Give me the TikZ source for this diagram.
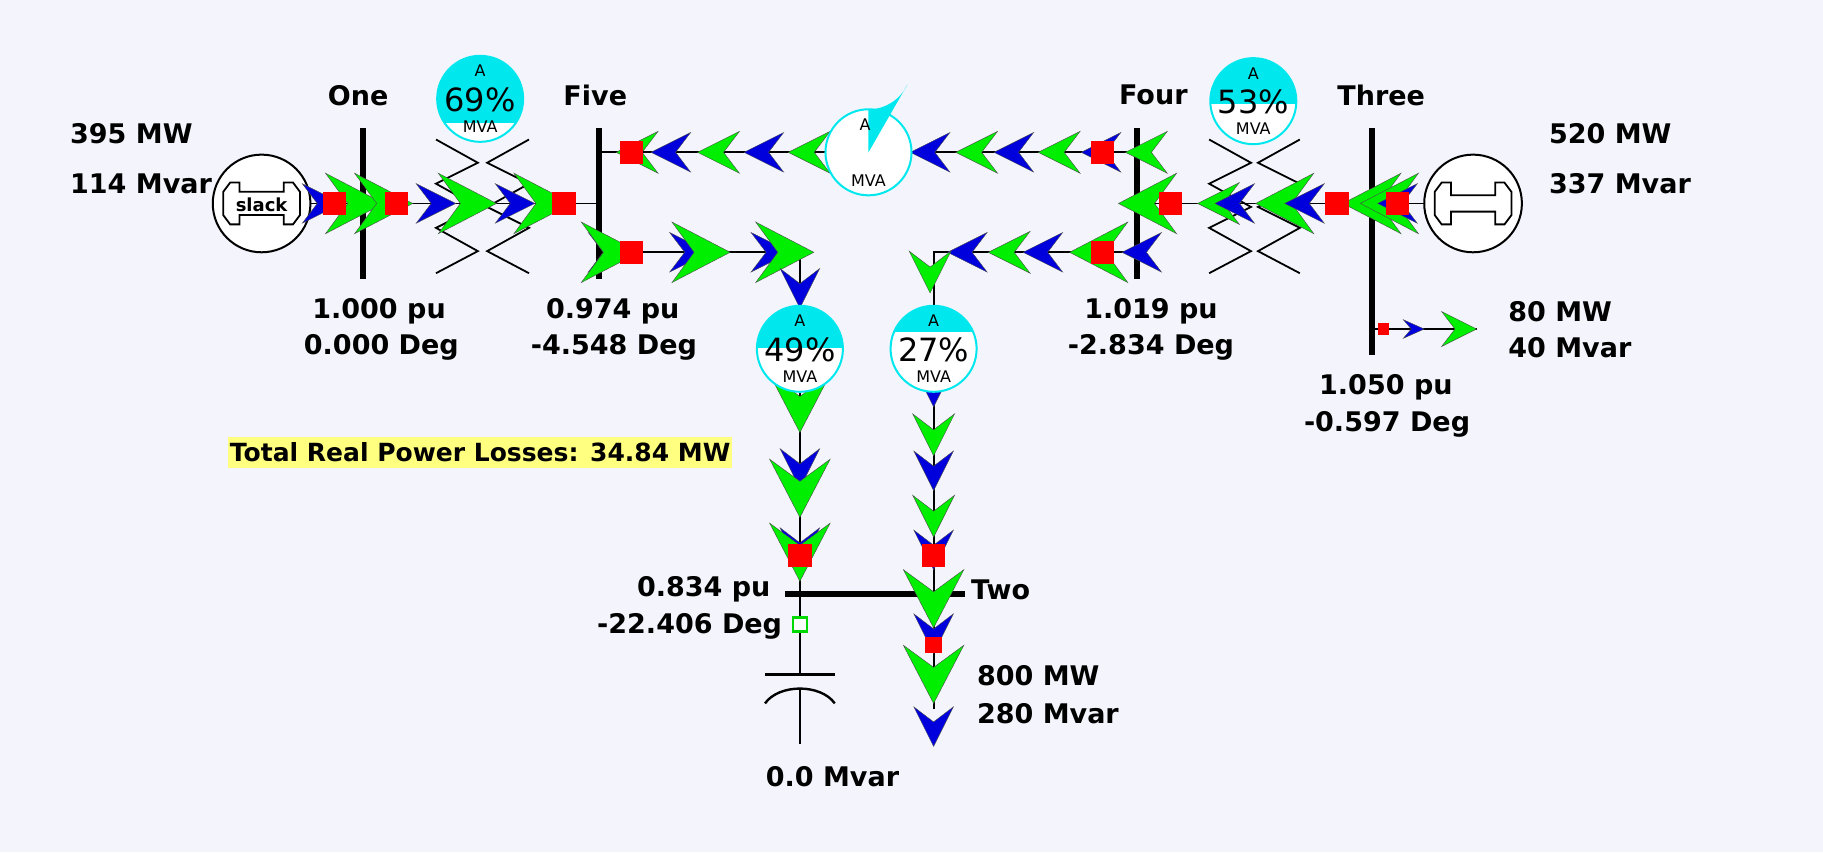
\documentclass[tikz,border=0pt]{standalone}
\usepackage{fontspec}
\setmainfont{DejaVu Sans}
\definecolor{bg}{HTML}{F4F5FC}
\definecolor{gr}{HTML}{00EE00}
\definecolor{bl}{HTML}{0000DD}
\definecolor{cy}{HTML}{00E8EE}
\definecolor{hl}{HTML}{FFFF80}
\newcommand\fl[6]{\fill[#4,draw=black!70,line width=0.2pt,shift={(#1,#2)},rotate=#3] (0,0)--(-#5,#6)--(-0.62*#5,0)--(-#5,-#6)--cycle;}
\newcommand\GA[3]{\fl{#1}{#2}{#3}{gr}{50}{26}}
\newcommand\Ga[3]{\fl{#1}{#2}{#3}{gr}{36}{18}}
\newcommand\BA[3]{\fl{#1}{#2}{#3}{bl}{34}{17}}
\newcommand\rs[2]{\fill[red] (#1-10,#2-10) rectangle (#1+10,#2+10);}
\newcommand\pie[4]{% x y level(frac of diameter from top) text
 \begin{scope}
 \clip (#1,#2) circle (37);
 \fill[white] (#1,#2) circle (37);
 \fill[cy] (#1-40,#2-40) rectangle (#1+40,#2-37+#3*74);
 \end{scope}
 \draw[cy,line width=1pt] (#1,#2) circle (37);
 \node[font=\fontsize{8}{9}\selectfont] at (#1,#2-24) {A};
 \node[font=\fontsize{16}{18}\selectfont] at (#1,#2+1) {#4};
 \node[font=\fontsize{8}{9}\selectfont] at (#1,#2+24) {MVA};}
\newcommand\coil[2]{\draw[line width=0.9pt] (#1,120)--(#1+#2,140)--(#1,158)--(#1+#2,178)--(#1,196)--(#1+#2,216)--(#1,235);}
\tikzset{bus/.style={line width=3pt},ln/.style={line width=0.9pt},
 lb/.style={font=\fontsize{13.5}{16}\selectfont\bfseries,inner sep=0pt}}
\begin{document}
\begin{tikzpicture}[x=0.5813pt,y=-0.5813pt]
\fill[bg] (0,0) rectangle (1568,733);
\useasboundingbox (0,0) rectangle (1568,733);
% coordinates
\coordinate (g1) at (267,175); \coordinate (b1) at (312,175);
\coordinate (b5m) at (515,175); \coordinate (b5t) at (515,131); \coordinate (b5l) at (515,217);
\coordinate (b4t) at (978,131); \coordinate (b4m) at (978,175); \coordinate (b4l) at (978,217);
\coordinate (b3m) at (1180,175); \coordinate (g3) at (1225,175); \coordinate (b3l) at (1180,283);
\coordinate (c5) at (688,217); \coordinate (c4) at (803,217);
\coordinate (b2a) at (688,511); \coordinate (b2b) at (803,511);
\coordinate (ld3) at (1270,283);
% lines
\draw[ln] (g1)--(b5m); \draw[ln] (b5t)--(b4t); \draw[ln] (b5l)--(c5)--(b2a);
\draw[ln] (b4l)--(c4)--(b2b); \draw[ln] (b4m)--(g3); \draw[ln] (b3l)--(ld3);
\draw[ln] (b2a)--(688,580); \draw[ln] (688,592)--(688,640);
\draw[ln] (b2b)--(803,610);
\draw[line width=1.2pt] (658,580)--(718,580);
\draw[line width=1.2pt] (658,605) .. controls (670,588) and (706,588) .. (718,605);
\draw[green!85!black,line width=1.2pt,fill=white] (682,531) rectangle (694,543);
% transformers
\coil{375}{36}\coil{455}{-36}
\coil{1040}{36}\coil{1118}{-36}
% buses
\draw[bus] (312,110)--(312,240); \draw[bus] (515,110)--(515,240);
\draw[bus] (978,110)--(978,240); \draw[bus] (1180,110)--(1180,305);
\draw[bus] (675,511)--(830,511);
% generators
\draw[line width=1pt,fill=white] (225,175) circle (42);
\draw[line width=0.9pt] (-19+225,-10+175)--(19+225,-10+175)--(19+225,-18+175)--(27+225,-18+175)--(33+225,-10+175)--(33+225,10+175)--(27+225,18+175)--(19+225,18+175)--(19+225,10+175)--(-19+225,10+175)--(-19+225,18+175)--(-27+225,18+175)--(-33+225,10+175)--(-33+225,-10+175)--(-27+225,-18+175)--(-19+225,-18+175)--cycle;
\node[font=\fontsize{9}{10}\selectfont\bfseries] at (225,176) {slack};
\draw[line width=1pt,fill=white] (1267,175) circle (42);
\draw[line width=0.9pt] (-19+1267,-7+175)--(19+1267,-7+175)--(19+1267,-18+175)--(27+1267,-18+175)--(33+1267,-10+175)--(33+1267,10+175)--(27+1267,18+175)--(19+1267,18+175)--(19+1267,7+175)--(-19+1267,7+175)--(-19+1267,18+175)--(-27+1267,18+175)--(-33+1267,10+175)--(-33+1267,-10+175)--(-27+1267,-18+175)--(-19+1267,-18+175)--cycle;
% arrows One-Five
\BA{294}{175}{0}\GA{330}{175}{0}\GA{355}{175}{0}
\BA{392}{175}{0}\GA{427}{175}{0}\BA{460}{175}{0}\GA{492}{175}{0}
\rs{288}{175}\rs{341}{175}\rs{485}{175}
% top line
\Ga{530}{131}{180}\BA{560}{131}{180}\Ga{600}{131}{180}\BA{640}{131}{180}\Ga{678}{131}{180}
\BA{783}{131}{180}\Ga{822}{131}{180}\BA{855}{131}{180}\Ga{893}{131}{180}\BA{930}{131}{180}\Ga{968}{131}{180}
\rs{543}{131}\rs{948}{131}
% Five lower branch
\BA{540}{217}{0}\GA{550}{217}{0}\BA{610}{217}{0}\GA{628}{217}{0}\BA{680}{217}{0}\GA{700}{217}{0}
\rs{543}{217}
% down x=688
\BA{688}{265}{-90}\GA{688}{372}{-90}\BA{688}{420}{-90}\GA{688}{445}{-90}\BA{688}{488}{-90}\GA{688}{500}{-90}
\rs{688}{478}
% Four lower branch
\BA{815}{217}{180}\Ga{850}{217}{180}\BA{880}{217}{180}\GA{920}{217}{180}\BA{965}{217}{180}
\rs{948}{217}
\Ga{800}{252}{-90}
\BA{803}{350}{-90}\Ga{803}{392}{-90}\BA{803}{422}{-90}\Ga{803}{462}{-90}\BA{803}{490}{-90}
\GA{803}{540}{-90}\BA{803}{562}{-90}\GA{803}{605}{-90}\BA{803}{642}{-90}
\rs{803}{478}\fill[red] (796,548) rectangle (810,562);
% Four-Three
\GA{962}{175}{180}\Ga{1030}{175}{180}\BA{1045}{175}{180}\GA{1080}{175}{180}\BA{1105}{175}{180}
\GA{1155}{175}{180}\GA{1170}{175}{180}\BA{1185}{175}{180}
\rs{1007}{175}\rs{1150}{175}\rs{1202}{175}
% load Three
\fl{1225}{283}{0}{bl}{18}{8}\fl{1270}{283}{0}{gr}{30}{15}
\fill[red] (1185,278) rectangle (1195,288);
% pies
\pie{413}{85}{0.78}{69\%}
\pie{1078}{87}{0.53}{53\%}
\pie{688}{300}{0.49}{49\%}
\pie{803}{300}{0.3}{27\%}
\fill[white] (747,131) circle (37);
\fill[cy] (747,131) -- (747,94) arc[start angle=90,end angle=25,radius=37] -- cycle;
\draw[cy,line width=1pt] (747,131) circle (37);
\node[font=\fontsize{8}{9}\selectfont] at (744,107) {A};
\node[font=\fontsize{8}{9}\selectfont] at (747,155) {MVA};
% labels
\node[lb,anchor=west] at (60,115) {395 MW};
\node[lb,anchor=west] at (60,158) {114 Mvar};
\node[lb] at (308,82) {One}; \node[lb] at (512,82) {Five};
\node[lb] at (992,82) {Four}; \node[lb] at (1188,82) {Three};
\node[lb,anchor=west] at (1332,115) {520 MW};
\node[lb,anchor=west] at (1332,158) {337 Mvar};
\node[lb] at (326,268) {1.000 pu}; \node[lb] at (328,299) {0.000 Deg};
\node[lb] at (527,268) {0.974 pu}; \node[lb] at (528,299) {-4.548 Deg};
\node[lb] at (990,268) {1.019 pu}; \node[lb] at (990,299) {-2.834 Deg};
\node[lb,anchor=west] at (1297,268) {80 MW}; \node[lb,anchor=west] at (1297,299) {40 Mvar};
\node[lb] at (1192,333) {1.050 pu}; \node[lb] at (1193,365) {-0.597 Deg};
\node[lb,fill=hl,inner xsep=1pt,inner ysep=3pt,font=\fontsize{12.5}{15}\selectfont\bfseries] at (413,389) {Total Real Power Losses: 34.84 MW};
\node[lb,anchor=east] at (663,507) {0.834 pu}; \node[lb,anchor=east] at (673,539) {-22.406 Deg};
\node[lb,anchor=west] at (835,507) {Two};
\node[lb,anchor=west] at (840,581) {800 MW}; \node[lb,anchor=west] at (840,614) {280 Mvar};
\node[lb] at (716,668) {0.0 Mvar};
\end{tikzpicture}
\end{document}
